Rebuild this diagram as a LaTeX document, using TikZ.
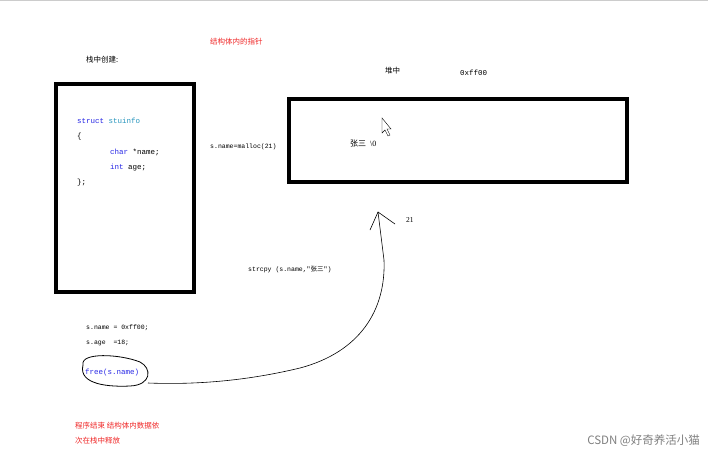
\documentclass[tikz,border=0pt]{standalone}
\usepackage{fontspec}
\setmainfont{Liberation Serif}
\setmonofont{Liberation Mono}
\newfontfamily\cjk{Noto Sans CJK SC}
\definecolor{kw}{RGB}{40,40,230}
\definecolor{ty}{RGB}{40,150,190}
\definecolor{rd}{RGB}{240,40,40}
\begin{document}
\begin{tikzpicture}[x=1pt,y=-1pt,
  box/.style={draw,line width=3.5pt},
  code/.style={font=\ttfamily\fontsize{7.5}{9}\selectfont,anchor=west,inner sep=0pt},
  cn/.style={font=\cjk\fontsize{7.5}{9}\selectfont,anchor=west,inner sep=0pt}]
\useasboundingbox (0,0) rectangle (708,461);
\fill[white] (0,0) rectangle (708,461);
\draw[gray!40,line width=1pt] (0,0.5) -- (708,0.5);
\node[draw,box,minimum width=138pt,minimum height=208pt,anchor=north west] (stack) at (54,82) {};
\node[draw,box,minimum width=338pt,minimum height=83pt,anchor=north west] (heap) at (287,97) {};
\node[cn,text=rd] (t1) at (210,42) {结构体内的指针};
\node[cn] (t2) at (86,60) {栈中创建:};
\node[cn] (t3) at (385,71) {堆中};
\node[code] (t4) at (460,73) {0xff00};
\node[code] (c1) at (77,121) {\textcolor{kw}{struct} \textcolor{ty}{stuinfo}};
\node[code] (c2) at (77,137) {\{};
\node[code] (c3) at (110,152) {\textcolor{kw}{char} *name;};
\node[code] (c4) at (110,168) {\textcolor{kw}{int} age;};
\node[code] (c5) at (77,183) {\};};
\node[code,font=\ttfamily\fontsize{6.5}{8}\selectfont] (m) at (210,147) {s.name=malloc(21)};
\node[anchor=west,inner sep=0pt,font=\fontsize{8}{9}\selectfont] (z) at (350,144) {{\cjk 张三}\ \ \textbackslash0};
\node[code,font=\fontsize{7.5}{9}\selectfont] (n21) at (406,220) {21};
\node[anchor=west,inner sep=0pt,font=\ttfamily\fontsize{6.5}{8}\selectfont] (sc) at (248,270) {strcpy (s.name,"{\cjk 张三}")};
\node[code,font=\ttfamily\fontsize{6.5}{8}\selectfont] (a1) at (86,328) {s.name = 0xff00;};
\node[code,font=\ttfamily\fontsize{6.5}{8}\selectfont] (a2) at (86,343) {s.age\ \ =18;};
\node[code,text=kw] (fr) at (85,373) {free(s.name)};
\node[cn,text=rd] (r1) at (75,426) {程序结束 结构体内数据依};
\node[cn,text=rd] (r2) at (75,441) {次在栈中释放};
\node[anchor=east,inner sep=0pt,text=gray,font=\cjk\fontsize{11.5}{13}\selectfont] (wm) at (700,441) {CSDN @好奇养活小猫};
\draw[thick] (83,365) .. controls (80,352) and (120,354) .. (140,362) .. controls (152,368) and (152,385) .. (130,386) .. controls (110,387) and (78,385) .. (83,365);
\coordinate (tip) at (378,212);
\draw[semithick] (148,383) .. controls (200,385) and (250,380) .. (300,368) .. controls (360,352) and (386,310) .. (384,260) -- (tip);
\draw[semithick] (370,230) -- (tip) -- (395,224);
\draw[thin,fill=white] (382,118) -- (382,133) -- (385,130) -- (388,136) -- (390,135) -- (387,129) -- (391,129) -- cycle;
\end{tikzpicture}
\end{document}
